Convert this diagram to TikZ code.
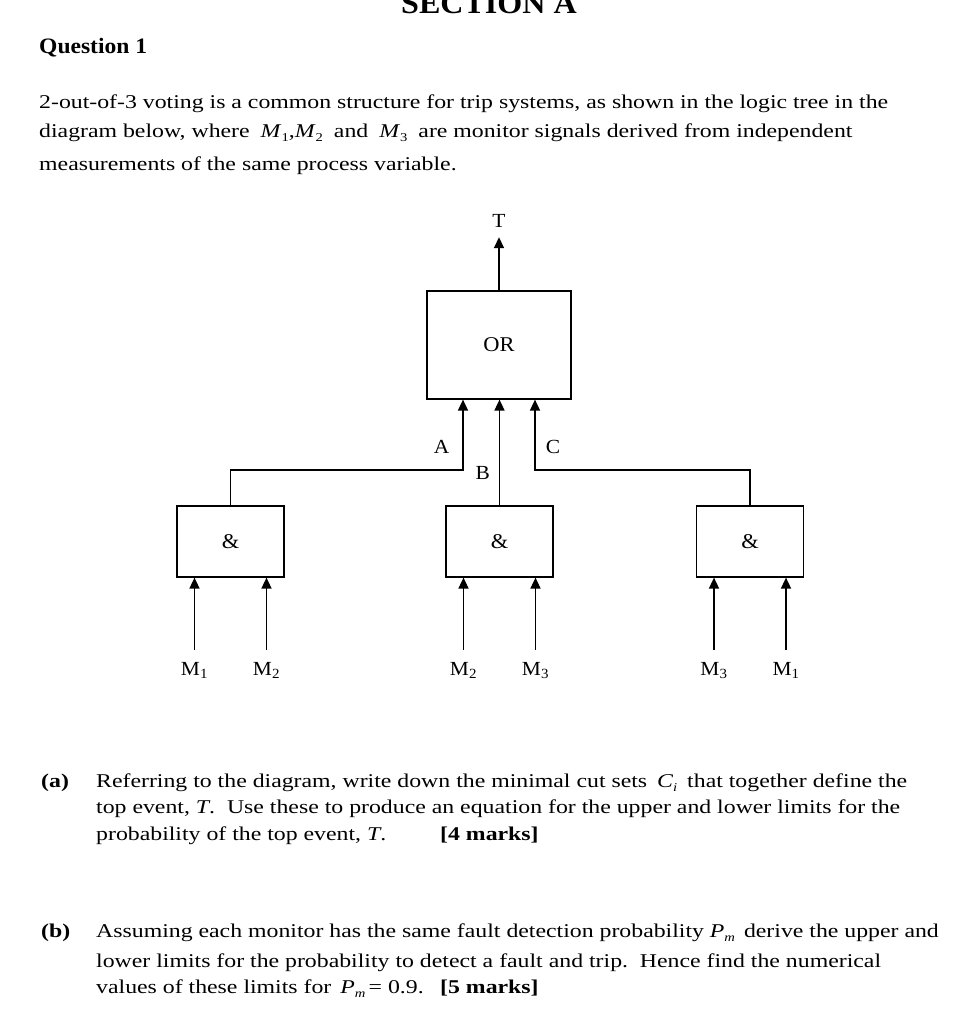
\documentclass[tikz,border=0pt]{standalone}
\usepackage{fontspec}
\setmainfont{Liberation Serif}[FakeStretch=1.22]
\newfontfamily\treefont{Liberation Serif}[FakeStretch=1.07]
\usetikzlibrary{arrows.meta}

\newcommand{\msub}[2]{\textit{#1}\raisebox{-0.55ex}{\fontsize{12}{12}\selectfont #2}}

\begin{document}
\begin{tikzpicture}
   [
      x=1pt, y=-1pt,
      >={Triangle[length=11pt, width=10pt]},
      gate/.style={rectangle, draw, line width=1.2pt, inner sep=0pt, minimum
      width=107pt, minimum height=71pt, font=\treefont\fontsize{21}{24}\selectfont},
      signal/.style={inner sep=0pt, font=\treefont\fontsize{20}{24}\selectfont},
      wire/.style={line width=1.6pt},
      txt/.style={anchor=base west, inner sep=0pt, font=\fontsize{19.5}{24}\selectfont},
      boldtxt/.style={txt, font=\fontsize{19.5}{24}\selectfont\bfseries}
   ]
   \useasboundingbox (0,0) rectangle (958,1020);

   % heading
   \node[anchor=base, inner sep=0pt, font=\treefont\fontsize{30}{36}\selectfont\bfseries]
      (section) at (489,13) {SECTION A};
   \node[txt, font=\treefont\fontsize{22}{26}\selectfont\bfseries] (question) at (39,53) {Question 1};
   \node[txt] (intro1) at (39,108) {2-out-of-3 voting is a common structure for trip systems, as shown in the logic tree in the};
   \node[txt] (intro2) at (39,137) {diagram below, where\hspace{5pt} \msub{M}{1},\msub{M}{2}\hspace{5pt} and\hspace{5pt} \msub{M}{3}\hspace{5pt} are monitor signals derived from independent};
   \node[txt] (intro3) at (39,170) {measurements of the same process variable.};

   % logic tree
   \node[gate, minimum width=144pt, minimum height=108pt] (or) at (499,345) {OR};
   \node[signal, anchor=base] (top) at (499,227) {T};
   \draw[wire, ->, shorten >=10pt] (or.north) -- (top.south);

   \foreach \i/\x/\a/\b in {1/230.5/1/2, 2/499.5/2/3, 3/750/3/1} {
      \node[gate] (and\i) at (\x,541.5) {\&};
      \node[signal, anchor=base] (ma\i) at (\x-36,675) {M\textsubscript{\a}};
      \node[signal, anchor=base] (mb\i) at (\x+36,675) {M\textsubscript{\b}};
      \draw[wire, ->, shorten <=12pt] (ma\i.north) -- (and\i.south -| ma\i.north);
      \draw[wire, ->, shorten <=12pt] (mb\i.north) -- (and\i.south -| mb\i.north);
   }

   \coordinate (ajoin) at (463,470);
   \coordinate (cjoin) at (535,470);
   \draw[wire, ->] (and1.north) |- (ajoin) -- (ajoin |- or.south);
   \draw[wire, ->] (and2.north) -- (and2.north |- or.south);
   \draw[wire, ->] (and3.north) |- (cjoin) -- (cjoin |- or.south);

   \node[signal] (labelA) at (441.7,447) {A};
   \node[signal] (labelB) at (482.7,473) {B};
   \node[signal] (labelC) at (553,447) {C};

   % parts (a) and (b)
   \node[boldtxt] (parta) at (41,787) {(a)};
   \node[txt] (a1) at (96,787) {Referring to the diagram, write down the minimal cut sets\hspace{4pt} \msub{C}{\textit{i}}\hspace{4pt} that together define the};
   \node[txt] (a2) at (96,813) {top event, \textit{T}.\ \ Use these to produce an equation for the upper and lower limits for the};
   \node[txt] (a3) at (96,840) {probability of the top event, \textit{T}.};
   \node[boldtxt] (marka) at (440,840) {[4 marks]};

   \node[boldtxt] (partb) at (41,937) {(b)};
   \node[txt] (b1) at (96,937) {Assuming each monitor has the same fault detection probability \msub{P}{\textit{m}}\hspace{3pt} derive the upper and};
   \node[txt] (b2) at (96,967) {lower limits for the probability to detect a fault and trip.\ \ Hence find the numerical};
   \node[txt] (b3) at (96,993) {values of these limits for\hspace{3pt} \msub{P}{\textit{m}}\,= 0.9.};
   \node[boldtxt] (markb) at (440,993) {[5 marks]};
\end{tikzpicture}
\end{document}
